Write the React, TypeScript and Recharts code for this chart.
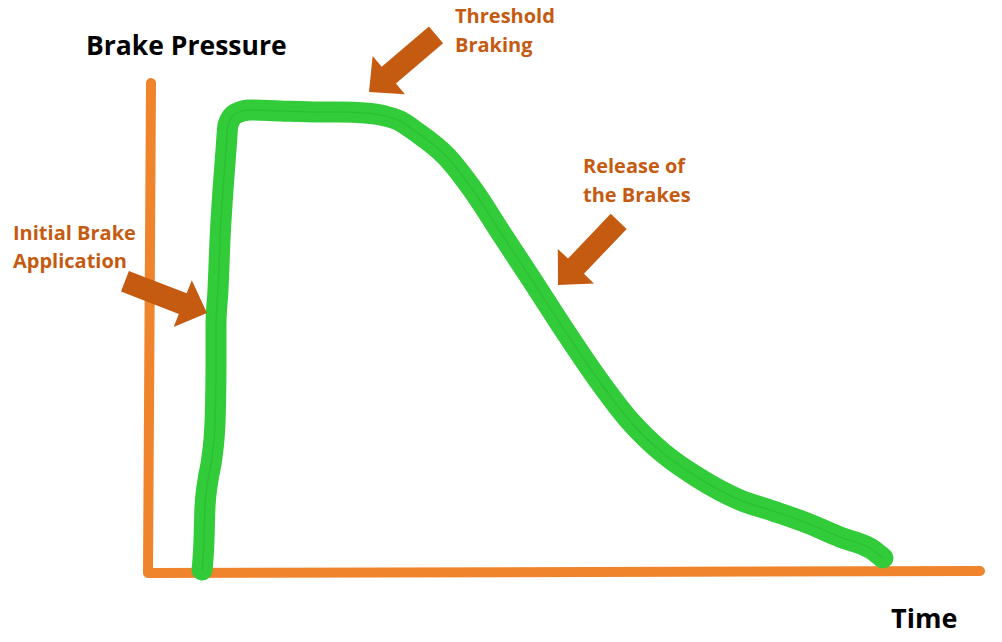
import React from "react";
import { LineChart, Line, XAxis, YAxis, ReferenceDot, Customized } from "recharts";

// Brake pressure curve (time, pressure)
const time = [54, 56, 57, 60, 64, 67, 68, 68, 70, 72, 75, 78, 80, 87, 102, 132, 172, 192, 217, 237, 252, 267, 299, 325, 355, 382, 415, 449, 482, 515, 549, 592, 625, 659, 692, 725, 735];
const pressure = [4, 34, 67, 94, 117, 151, 204, 251, 284, 334, 384, 424, 449, 460, 464, 463, 462, 462, 461, 458, 453, 443, 417, 384, 338, 297, 246, 196, 153, 121, 97, 74, 63, 51, 37, 24, 16];

// hand-drawn axes (time, pressure)
const axisTime = [3, 0, 832];
const axisPressure = [491, 1, 3];

// annotation arrows: tip position (time, pressure) and pointing angle (deg, screen)
const arrowNames = ["Threshold Braking", "Release of the Brakes", "Initial Brake Application"];
const arrowTipTime = [221, 410, 59];
const arrowTipPressure = [482, 289, 261];
const arrowAngle = [139.6, 133.6, 21.2];

const curveData = time.map((t, i) => ({ t, p: pressure[i] }));
const axisData = axisTime.map((t, i) => ({ t, p: axisPressure[i] }));

const BROWN = "#C55A11";
const ORANGE = "#F0842C";
const GREEN = "#32CC3A";

const makeArrow = (angle: number) => (props: any) => {
  const { cx, cy } = props;
  const L = 88, H = 26, HW = 25, SW = 11;
  const pts = [
    [0, 0], [-H, -HW], [-H, -SW], [-L, -SW], [-L, SW], [-H, SW], [-H, HW],
  ];
  const a = (angle * Math.PI) / 180;
  const c = Math.cos(a), s = Math.sin(a);
  const d = pts
    .map(([x, y]) => `${(cx + x * c - y * s).toFixed(1)},${(cy + x * s + y * c).toFixed(1)}`)
    .join(" ");
  return <polygon points={d} fill={BROWN} />;
};

const labelFont = "'Open Sans', 'Noto Sans', sans-serif";

const Texts = () => (
  <g fontFamily={labelFont}>
    <text x={86} y={55} fontSize={26.5} fontWeight={700} fill="#000">Brake Pressure</text>
    <text x={891} y={628} fontSize={27} fontWeight={700} fill="#000">Time</text>
    <g fill={BROWN} fontSize={20} fontWeight={700}>
      <text x={455} y={23}>Threshold</text>
      <text x={455} y={52}>Braking</text>
      <text x={583} y={173}>Release of</text>
      <text x={583} y={202}>the Brakes</text>
      <text x={13} y={240}>Initial Brake</text>
      <text x={13} y={268}>Application</text>
    </g>
  </g>
);

export default function App() {
  return (
    <div style={{ position: "absolute", left: 0, top: 0, width: 1002, height: 642, background: "#fff" }}>
      <LineChart width={1002} height={642} margin={{ top: 0, right: 0, bottom: 0, left: 0 }}>
        <XAxis type="number" dataKey="t" domain={[-148, 854]} hide allowDataOverflow />
        <YAxis type="number" dataKey="p" domain={[-68, 574]} hide allowDataOverflow />
        <Line
          data={axisData}
          dataKey="p"
          type="linear"
          stroke={ORANGE}
          strokeWidth={10}
          strokeLinecap="round"
          strokeLinejoin="round"
          dot={false}
          activeDot={false}
          isAnimationActive={false}
        />
        <Line
          data={curveData}
          dataKey="p"
          type="monotoneX"
          stroke={GREEN}
          strokeWidth={21}
          strokeLinecap="round"
          strokeLinejoin="round"
          dot={false}
          activeDot={false}
          isAnimationActive={false}
        />
        <Line
          data={curveData}
          dataKey="p"
          type="monotoneX"
          stroke="#1FA82A"
          strokeOpacity={0.35}
          strokeWidth={1.5}
          strokeLinecap="round"
          strokeLinejoin="round"
          dot={false}
          activeDot={false}
          isAnimationActive={false}
        />
        {arrowNames.map((name, i) => (
          <ReferenceDot
            key={name}
            x={arrowTipTime[i]}
            y={arrowTipPressure[i]}
            r={1}
            ifOverflow="visible"
            shape={makeArrow(arrowAngle[i])}
          />
        ))}
        <Customized component={Texts} />
      </LineChart>
    </div>
  );
}
